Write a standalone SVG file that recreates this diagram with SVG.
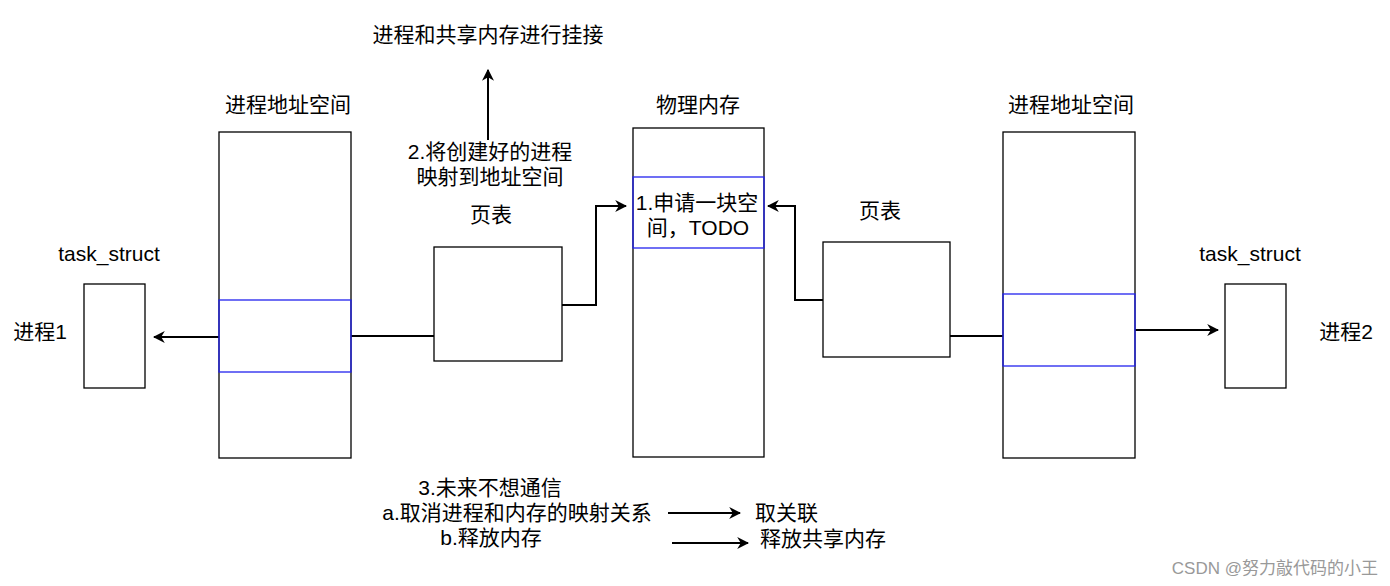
<svg xmlns="http://www.w3.org/2000/svg" width="1390" height="586" viewBox="0 0 1390 586">
<defs>
<style>
.b{fill:#fff;stroke:#000;stroke-width:1.3}
.bl{fill:none;stroke:#2222ee;stroke-width:1.3}
.c{fill:none;stroke:#000;stroke-width:2}
text{font-family:"Liberation Sans","Noto Sans CJK SC",sans-serif;font-size:21px;fill:#000}
.m{text-anchor:middle}
</style>
<marker id="a" viewBox="0 0 10 10" refX="9" refY="5" markerWidth="6" markerHeight="6" orient="auto"><path d="M0,0L10,5L0,10L3,5Z" fill="#000"/></marker>
</defs>
<rect width="1390" height="586" fill="#fff"/>
<g id="connectors">
<path class="c" d="M219,337H154" marker-end="url(#a)"/>
<path class="c" d="M351,336H434"/>
<path class="c" d="M562,305H596V206H626" marker-end="url(#a)"/>
<path class="c" d="M823,300H795V206H768" marker-end="url(#a)"/>
<path class="c" d="M950,336H1003"/>
<path class="c" d="M1135,330H1218" marker-end="url(#a)"/>
<path class="c" d="M488,140V70" marker-end="url(#a)"/>
<path class="c" d="M668,513H740" marker-end="url(#a)"/>
<path class="c" d="M672,543H748" marker-end="url(#a)"/>
</g>
<g id="as1"><rect class="b" x="219" y="132" width="132" height="326"/><rect class="bl" x="219" y="300" width="132" height="72"/><text class="m" x="288" y="112">进程地址空间</text></g>
<g id="ts1"><rect class="b" x="84" y="284" width="61" height="104"/><text class="m" x="109" y="261">task_struct</text><text class="m" x="40" y="339">进程1</text></g>
<g id="pt1"><rect class="b" x="434" y="247" width="128" height="114"/><text class="m" x="491" y="222">页表</text></g>
<g id="pm"><rect class="b" x="633" y="128" width="131" height="329"/><rect class="bl" x="633" y="177" width="131" height="71"/><text class="m" x="698" y="112">物理内存</text><text class="m" x="697" y="210">1.申请一块空</text><text class="m" x="698" y="235">间，TODO</text></g>
<g id="pt2"><rect class="b" x="823" y="242" width="127" height="115"/><text class="m" x="880" y="218">页表</text></g>
<g id="as2"><rect class="b" x="1003" y="132" width="132" height="326"/><rect class="bl" x="1003" y="294" width="132" height="72"/><text class="m" x="1071" y="112">进程地址空间</text></g>
<g id="ts2"><rect class="b" x="1225" y="284" width="61" height="104"/><text class="m" x="1250" y="261">task_struct</text><text class="m" x="1346" y="339">进程2</text></g>
<g id="labels">
<text class="m" x="488" y="42">进程和共享内存进行挂接</text>
<text class="m" x="490" y="159">2.将创建好的进程</text>
<text class="m" x="490" y="184">映射到地址空间</text>
<text class="m" x="490" y="495">3.未来不想通信</text>
<text class="m" x="517" y="520">a.取消进程和内存的映射关系</text>
<text class="m" x="491" y="545">b.释放内存</text>
<text x="755" y="520">取关联</text>
<text x="760" y="546">释放共享内存</text>
<text x="1378" y="574" style="text-anchor:end;font-size:17px;fill:#999">CSDN @努力敲代码的小王</text>
</g>
</svg>
